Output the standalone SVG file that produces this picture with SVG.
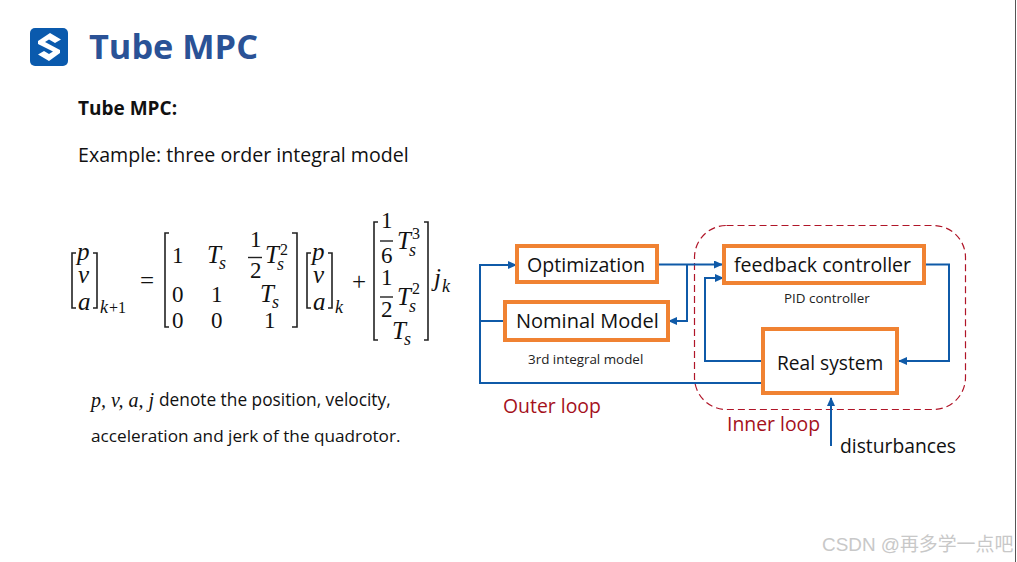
<svg xmlns="http://www.w3.org/2000/svg" width="1017" height="562" viewBox="0 0 1017 562">
<style>
.t{font-family:"Open Sans","Noto Sans",sans-serif;fill:#111}
.b{font-size:19.6px}
.s{font-size:13.400px;fill:#222}
.r{font-size:19.4px;fill:#a5111c}
.m{font-family:"Liberation Serif",serif;font-size:23px;fill:#111}
.i{font-style:italic;font-size:25px}
.u{font-size:16px}
.is{font-style:italic;font-size:18px}
.box{fill:#fff;stroke:#f08232;stroke-width:4}
.c{fill:none;stroke:#0f5aa8;stroke-width:2}
.br{fill:none;stroke:#222;stroke-width:1.6}
.bar{stroke:#222;stroke-width:1.4}
</style>
<defs>
<marker id="a" markerWidth="10" markerHeight="8" refX="8" refY="4" orient="auto" markerUnits="userSpaceOnUse"><path d="M0 0L9 4L0 8Z" fill="#0f5aa8"/></marker>
</defs>
<rect width="1017" height="562" fill="#fff"/>
<line x1="1015.5" y1="0" x2="1015.5" y2="562" stroke="#555" stroke-width="1"/>
<g id="logo">
<rect x="30" y="28" width="38" height="38" rx="5" fill="#0a5aad"/>
<path d="M50 33L61 39.500L55 43L49 39.500L45 42L60 50L60 53L49 61L38 54.500L44 51L49 54L53 51.500L38 44L38 41Z" fill="#fff"/>
</g>
<text x="89" y="59" font-family="'Open Sans',sans-serif" font-weight="700" font-size="34" fill="#2a5296" textLength="169" lengthAdjust="spacingAndGlyphs">Tube MPC</text>
<text class="t" x="78" y="115" font-size="19" font-weight="700">Tube MPC:</text>
<text class="t" x="78" y="162" font-size="19.6">Example: three order integral model</text>
<g id="equation">
<path class="br" d="M76 253H72V308H76M93 253H97V308H93M169 233H165V327H169M292 233H297V327H292M311 253H307V308H311M328 253H332V308H328M378 222H374V340H378M424 222H428V340H424"/>
<text class="m i" x="77" y="260">p</text><text class="m i" x="78" y="283">v</text><text class="m i" x="78" y="310">a</text>
<text class="m is" x="100" y="313">k</text><text class="m u" x="109" y="313">+1</text>
<text class="m" x="140" y="288.500" style="font-size:25px">=</text>
<text class="m" x="172" y="263">1</text><text class="m i" x="207" y="263">T</text><text class="m is" x="219" y="269">s</text>
<text class="m" x="172" y="302">0</text><text class="m" x="211" y="302">1</text>
<text class="m" x="172" y="328">0</text><text class="m" x="211" y="328">0</text>
<text class="m" x="250" y="247">1</text><line class="bar" x1="248" y1="257.500" x2="262" y2="257.500"/><text class="m" x="250" y="278">2</text>
<text class="m i" x="265" y="263">T</text><text class="m is" x="277" y="270">s</text><text class="m u" x="280" y="255">2</text>
<text class="m i" x="260" y="302">T</text><text class="m is" x="272" y="308">s</text>
<text class="m" x="264" y="328">1</text>
<text class="m i" x="312" y="260">p</text><text class="m i" x="313" y="283">v</text><text class="m i" x="313" y="310">a</text>
<text class="m is" x="335" y="313">k</text>
<text class="m" x="352" y="290" style="font-size:25px">+</text>
<text class="m" x="381" y="228">1</text><line class="bar" x1="380" y1="241" x2="393" y2="241"/><text class="m" x="381" y="263">6</text>
<text class="m i" x="397" y="249">T</text><text class="m is" x="409" y="256">s</text><text class="m u" x="412" y="239">3</text>
<text class="m" x="381" y="285">1</text><line class="bar" x1="380" y1="297" x2="393" y2="297"/><text class="m" x="381" y="317">2</text>
<text class="m i" x="397" y="305">T</text><text class="m is" x="409" y="312">s</text><text class="m u" x="412" y="294">2</text>
<text class="m i" x="392" y="339">T</text><text class="m is" x="404" y="345">s</text>
<text class="m i" x="434" y="286">j</text><text class="m is" x="442" y="292">k</text>
</g>
<text x="91" y="407" font-family="'Liberation Serif',serif" font-style="italic" font-size="20" fill="#111">p, v, a, j</text>
<text class="t" x="159" y="406" font-size="17.300">denote the position, velocity,</text>
<text class="t" x="91" y="442" font-size="17.200">acceleration and jerk of the quadrotor.</text>
<rect id="inner-loop" x="694.500" y="225.500" width="271" height="184" rx="32" fill="none" stroke="#b01528" stroke-width="1.2" stroke-dasharray="7 4"/>
<g id="connectors">
<path class="c" d="M659 264.500H722" marker-end="url(#a)"/>
<path class="c" d="M687 264.500V321H669" marker-end="url(#a)"/>
<path class="c" d="M505 321H480"/>
<path class="c" d="M762 383H480V265H516" marker-end="url(#a)"/>
<path class="c" d="M762 361H705V278H723" marker-end="url(#a)"/>
<path class="c" d="M925 264.500H949V361H899" marker-end="url(#a)"/>
<path class="c" d="M831 446V398" marker-end="url(#a)"/>
</g>
<g id="optimization"><rect class="box" x="517" y="246" width="140" height="36"/><text class="t b" x="527" y="272">Optimization</text></g>
<g id="nominal-model"><rect class="box" x="505" y="302" width="163" height="38"/><text class="t b" x="516" y="328" style="font-size:20px">Nominal Model</text></g>
<g id="feedback-controller"><rect class="box" x="724" y="246" width="200" height="37"/><text class="t b" x="734" y="272">feedback controller</text></g>
<g id="real-system"><rect class="box" x="763" y="329" width="134" height="64"/><text class="t b" x="777" y="370" style="font-size:19.2px">Real system</text></g>
<text class="t s" x="528" y="364">3rd integral model</text>
<text class="t s" x="784" y="303">PID controller</text>
<text class="t r" x="503" y="413">Outer loop</text>
<text class="t r" x="727" y="431">Inner loop</text>
<text class="t b" x="840" y="453" style="font-size:19.3px">disturbances</text>
<text x="822" y="551" font-family="'Liberation Sans','Noto Sans CJK SC',sans-serif" font-size="18.900" fill="#c8c8c8">CSDN @再多学一点吧</text>
</svg>
